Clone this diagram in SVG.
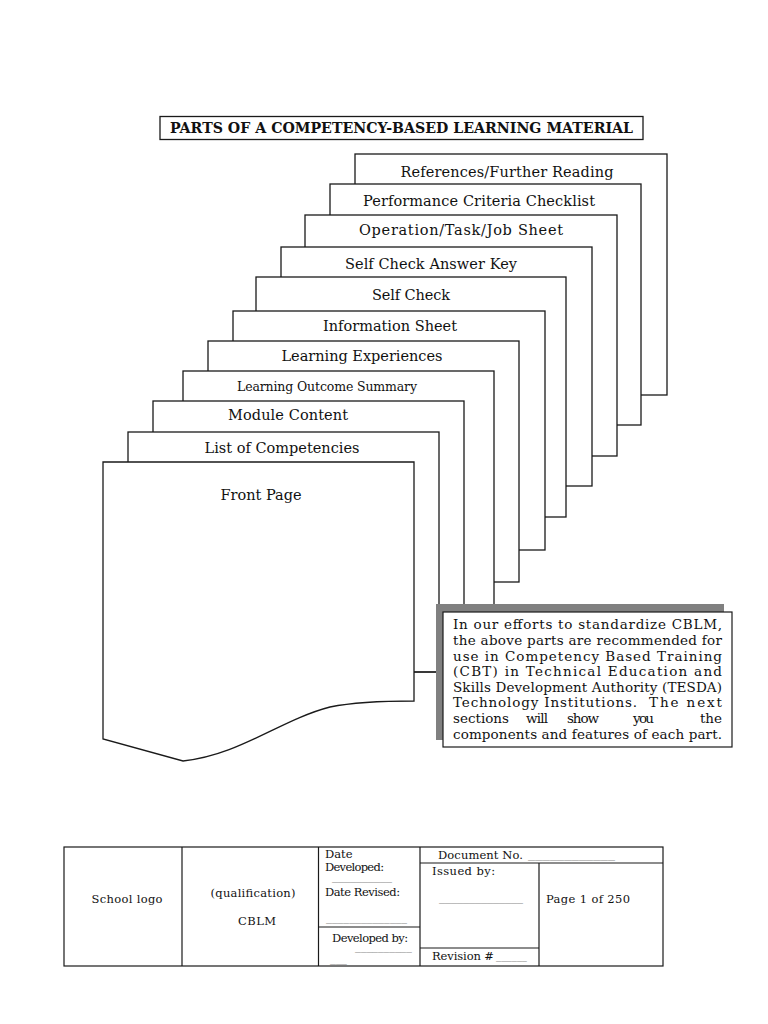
<svg xmlns="http://www.w3.org/2000/svg" width="768" height="1024" viewBox="0 0 768 1024">
<style>
.pg{fill:#fff;stroke:#1a1a1a;stroke-width:1.3}
.lb{font-family:"DejaVu Serif","Liberation Serif",serif;font-size:14.5px;fill:#111;text-anchor:middle}
.sm{font-family:"DejaVu Serif","Liberation Serif",serif;font-size:12.5px;fill:#111;text-anchor:middle}
.bx{font-family:"DejaVu Serif","Liberation Serif",serif;font-size:13.5px;fill:#111}
.ft{font-family:"DejaVu Serif","Liberation Serif",serif;font-size:11.5px;fill:#111}
.us{font-family:"DejaVu Serif","Liberation Serif",serif;font-size:7px;fill:#111}
.ln{stroke:#1a1a1a;stroke-width:1.2;fill:none}
</style>
<rect width="768" height="1024" fill="#fff"/>
<g id="title">
<rect x="160" y="116.5" width="483" height="23" fill="#fff" stroke="#1a1a1a" stroke-width="1.3"/>
<text x="170" y="133" font-family="'DejaVu Serif','Liberation Serif',serif" font-size="14.5px" font-weight="bold" textLength="463" lengthAdjust="spacingAndGlyphs" fill="#111">PARTS OF A COMPETENCY-BASED LEARNING MATERIAL</text>
</g>
<g id="references"><rect class="pg" x="355" y="154" width="312" height="241"/><text class="lb" x="507" y="177" textLength="213">References/Further Reading</text></g>
<g id="performance"><rect class="pg" x="330" y="184" width="311" height="241"/><text class="lb" x="479" y="206" textLength="232">Performance Criteria Checklist</text></g>
<g id="operation"><rect class="pg" x="305" y="215" width="312" height="241"/><text class="lb" x="461" y="235" textLength="204">Operation/Task/Job Sheet</text></g>
<g id="answer-key"><rect class="pg" x="281" y="247" width="311" height="239"/><text class="lb" x="431" y="269" textLength="172">Self Check Answer Key</text></g>
<g id="self-check"><rect class="pg" x="256" y="277" width="310" height="240"/><text class="lb" x="411" y="300" textLength="78">Self Check</text></g>
<g id="information"><rect class="pg" x="233" y="311" width="312" height="239"/><text class="lb" x="390" y="331" textLength="134">Information Sheet</text></g>
<g id="experiences"><rect class="pg" x="208" y="341" width="311" height="241"/><text class="lb" x="362" y="361" textLength="161">Learning Experiences</text></g>
<g id="lo-summary"><rect class="pg" x="183" y="371" width="311" height="240"/><text class="sm" x="327" y="391" textLength="180">Learning Outcome Summary</text></g>
<g id="module-content"><rect class="pg" x="153" y="401" width="311" height="240"/><text class="lb" x="288" y="420" textLength="120">Module Content</text></g>
<g id="competencies"><rect class="pg" x="128" y="432" width="311" height="240"/><text class="lb" x="282" y="453" textLength="155">List of Competencies</text></g>
<g id="front-page">
<path class="pg" d="M103,462 H414 V701 Q360,701 330,707 C280,720 240,755 183,761 L103,739 Z"/>
<text class="lb" x="261" y="500" textLength="81">Front Page</text>
</g>
<g id="connectors"><line class="ln" x1="414" y1="672" x2="436" y2="672"/></g>
<g id="note">
<rect x="436" y="604" width="288" height="136" fill="#808080"/>
<rect x="443" y="612" width="289" height="135" fill="#fff" stroke="#1a1a1a" stroke-width="1.2"/>
<text class="bx" x="453" y="629" textLength="269">In our efforts to standardize CBLM,</text>
<text class="bx" x="453" y="645" textLength="269">the above parts are recommended for</text>
<text class="bx" x="453" y="661" textLength="269">use in Competency Based Training</text>
<text class="bx" x="453" y="676" textLength="269">(CBT) in Technical Education and</text>
<text class="bx" x="453" y="692" textLength="269">Skills Development Authority (TESDA)</text>
<text class="bx" x="453" y="707" textLength="184">Technology Institutions.</text>
<text class="bx" x="649" y="707" textLength="73">The next</text>
<text class="bx" x="453" y="723" textLength="56">sections</text>
<text class="bx" x="526" y="723" textLength="22">will</text>
<text class="bx" x="567" y="723" textLength="32">show</text>
<text class="bx" x="633" y="723" textLength="21">you</text>
<text class="bx" x="722" y="723" text-anchor="end">the</text>
<text class="bx" x="453" y="739" textLength="269">components and features of each part.</text>
</g>
<g id="footer">
<rect x="64" y="847" width="599" height="119" fill="none" stroke="#1a1a1a" stroke-width="1.2"/>
<line class="ln" x1="182" y1="847" x2="182" y2="966"/>
<line class="ln" x1="318.5" y1="847" x2="318.5" y2="966"/>
<line class="ln" x1="420" y1="847" x2="420" y2="966"/>
<line class="ln" x1="420" y1="863" x2="663" y2="863"/>
<line class="ln" x1="539" y1="863" x2="539" y2="966"/>
<line class="ln" x1="420" y1="948" x2="539" y2="948"/>
<line class="ln" x1="318.5" y1="927" x2="420" y2="927"/>
<text class="ft" x="127" y="903" text-anchor="middle" textLength="71">School logo</text>
<text class="ft" x="253" y="897" text-anchor="middle" textLength="85">(qualification)</text>
<text class="ft" x="257" y="925" text-anchor="middle" textLength="38">CBLM</text>
<text class="ft" x="325" y="858">Date</text>
<text class="ft" x="325" y="871" textLength="59">Developed:</text>
<text class="us" x="332" y="881" textLength="60" lengthAdjust="spacingAndGlyphs">__________</text>
<text class="ft" x="325" y="896" textLength="75">Date Revised:</text>
<text class="us" x="326" y="922" textLength="81" lengthAdjust="spacingAndGlyphs">______________</text>
<text class="ft" x="332" y="942" textLength="76">Developed by:</text>
<text class="us" x="355" y="951" textLength="57" lengthAdjust="spacingAndGlyphs">__________</text>
<text class="us" x="330" y="963" textLength="17" lengthAdjust="spacingAndGlyphs">___</text>
<text class="ft" x="438" y="859"><tspan textLength="85">Document No.</tspan><tspan x="528" y="859" style="font-size:7px" textLength="87" lengthAdjust="spacingAndGlyphs">____________</tspan></text>
<text class="ft" x="432" y="875" textLength="63">Issued by:</text>
<text class="us" x="439" y="902" textLength="84" lengthAdjust="spacingAndGlyphs">______________</text>
<text class="ft" x="546" y="903" textLength="84">Page 1 of 250</text>
<text class="ft" x="432" y="960"><tspan textLength="62">Revision #</tspan><tspan x="496" y="960" style="font-size:7px" textLength="31" lengthAdjust="spacingAndGlyphs">______</tspan></text>
</g>
</svg>
